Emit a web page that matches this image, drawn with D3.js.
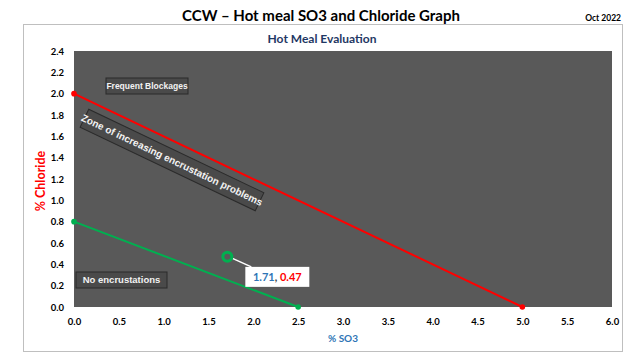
<!DOCTYPE html>
<html>
<head>
<meta charset="utf-8">
<script src="https://cdn.jsdelivr.net/npm/d3@7"></script>
<style>
  body { margin: 0; background: #fff; }
  svg { display: block; font-family: Lato, 'Open Sans', sans-serif; }
</style>
</head>
<body>
<div id="chart"></div>
<script>
/* Chart data */
const xTicks = [0, 0.5, 1.0, 1.5, 2.0, 2.5, 3.0, 3.5, 4.0, 4.5, 5.0, 5.5, 6.0];
const yTicks = [0, 0.2, 0.4, 0.6, 0.8, 1.0, 1.2, 1.4, 1.6, 1.8, 2.0, 2.2, 2.4];
const blockageSO3 = [0, 5.0];
const blockageChloride = [2.0, 0];
const encrustSO3 = [0, 2.5];
const encrustChloride = [0.8, 0];
const sampleSO3 = [1.71];
const sampleChloride = [0.47];

const W = 638;
const H = 359;
const plot = { left: 74, right: 612, top: 51, bottom: 307 };

const svg = d3.select('#chart')
  .append('svg')
  .attr('width', W)
  .attr('height', H);

const x = d3.scaleLinear().domain([0, 6]).range([plot.left, plot.right]);
const y = d3.scaleLinear().domain([0, 2.4]).range([plot.bottom, plot.top]);

// page title + date
svg.append('text')
  .attr('x', 321).attr('y', 21)
  .attr('text-anchor', 'middle')
  .style('font-size', '15px').style('font-weight', 'bold')
  .text('CCW \u2013 Hot meal SO3 and Chloride Graph');

svg.append('text')
  .attr('x', 621).attr('y', 21)
  .attr('text-anchor', 'end')
  .style('font-size', '8.5px').style('font-weight', 'bold')
  .text('Oct 2022');

// chart frame
svg.append('rect')
  .attr('x', 23.5).attr('y', 24.5)
  .attr('width', 599).attr('height', 327)
  .attr('fill', '#fff').attr('stroke', '#bfbfbf');

svg.append('text')
  .attr('x', 322).attr('y', 43)
  .attr('text-anchor', 'middle')
  .style('font-size', '12px').style('font-weight', 'bold')
  .style('fill', '#1f3864')
  .text('Hot Meal Evaluation');

// plot area
svg.append('rect')
  .attr('x', plot.left).attr('y', plot.top)
  .attr('width', plot.right - plot.left).attr('height', plot.bottom - plot.top)
  .attr('fill', '#595959');

// axes (labels only, no lines)
const yAxis = svg.append('g')
  .attr('transform', `translate(${plot.left},0)`)
  .call(d3.axisLeft(y).tickValues(yTicks).tickFormat(d3.format('.1f')).tickSize(0).tickPadding(10));
const xAxis = svg.append('g')
  .attr('transform', `translate(0,${plot.bottom})`)
  .call(d3.axisBottom(x).tickValues(xTicks).tickFormat(d3.format('.1f')).tickSize(0).tickPadding(11));
[xAxis, yAxis].forEach((g) => {
  g.select('.domain').remove();
  g.selectAll('text')
    .style('font-family', 'Lato, sans-serif')
    .style('font-size', '9.5px')
    .style('font-weight', 'bold')
    .style('fill', '#000');
});

svg.append('text')
  .attr('transform', `translate(45,${(plot.top + plot.bottom) / 2 + 2}) rotate(-90)`)
  .attr('text-anchor', 'middle')
  .style('font-size', '12.5px').style('font-weight', 'bold')
  .style('fill', '#ff0000')
  .text('% Chloride');

svg.append('text')
  .attr('x', (plot.left + plot.right) / 2).attr('y', 342)
  .attr('text-anchor', 'middle')
  .style('font-size', '10px').style('font-weight', 'bold')
  .style('fill', '#2e75b6')
  .text('% SO3');

// annotation boxes
function noteBox (cx, cy, w, h, angle, label, size) {
  const g = svg.append('g')
    .attr('transform', `translate(${cx},${cy}) rotate(${angle})`);
  g.append('rect')
    .attr('x', -w / 2).attr('y', -h / 2)
    .attr('width', w).attr('height', h)
    .attr('fill', '#4a4a4a')
    .attr('stroke', '#2b2b2b').attr('stroke-width', 1);
  g.append('text')
    .attr('x', 0).attr('y', 0)
    .attr('dy', '0.35em')
    .attr('text-anchor', 'middle')
    .style('font-family', "'Liberation Sans', Arial, sans-serif")
    .style('font-size', size)
    .style('font-weight', 'bold')
    .style('fill', '#f2f2f2')
    .text(label);
}
noteBox(147, 86, 82, 16, 0, 'Frequent Blockages', '8.5px');
noteBox(172, 160, 194, 20, 25.5, 'Zone of increasing encrustation problems', '10px');
noteBox(121.5, 280, 91, 16, 0, 'No encrustations', '9.5px');

// threshold lines
const line = d3.line().x((d) => x(d[0])).y((d) => y(d[1]));
const series = [
  { so3: blockageSO3, cl: blockageChloride, color: '#ff0000' },
  { so3: encrustSO3, cl: encrustChloride, color: '#00b050' }
];
series.forEach((s) => {
  const pts = d3.zip(s.so3, s.cl);
  svg.append('path')
    .datum(pts)
    .attr('d', line)
    .attr('fill', 'none')
    .attr('stroke', s.color)
    .attr('stroke-width', 2);
  svg.selectAll(null)
    .data(pts)
    .join('circle')
    .attr('cx', (d) => x(d[0]))
    .attr('cy', (d) => y(d[1]))
    .attr('r', 2.8)
    .attr('fill', s.color);
});

// sample point with data label
const sx = x(sampleSO3[0]);
const sy = y(sampleChloride[0]);
const labelBox = { x: sx + 18, y: sy + 10, w: 64, h: 20 };

svg.append('line')
  .attr('x1', sx + 4).attr('y1', sy + 1)
  .attr('x2', labelBox.x + 6).attr('y2', labelBox.y)
  .attr('stroke', '#fff').attr('stroke-width', 1.5);

svg.append('circle')
  .attr('cx', sx).attr('cy', sy)
  .attr('r', 4.5)
  .attr('fill', 'none')
  .attr('stroke', '#00b050').attr('stroke-width', 3);

svg.append('rect')
  .attr('x', labelBox.x).attr('y', labelBox.y)
  .attr('width', labelBox.w).attr('height', labelBox.h)
  .attr('fill', '#fff');

const lbl = svg.append('text')
  .attr('x', labelBox.x + labelBox.w / 2)
  .attr('y', labelBox.y + labelBox.h / 2)
  .attr('dy', '0.36em')
  .attr('text-anchor', 'middle')
  .style('font-size', '11px').style('font-weight', 'bold');
lbl.append('tspan').style('fill', '#2e75b6').text(d3.format('.2f')(sampleSO3[0]));
lbl.append('tspan').style('fill', '#404040').text(', ');
lbl.append('tspan').style('fill', '#ff0000').text(d3.format('.2f')(sampleChloride[0]));
</script>
</body>
</html>
